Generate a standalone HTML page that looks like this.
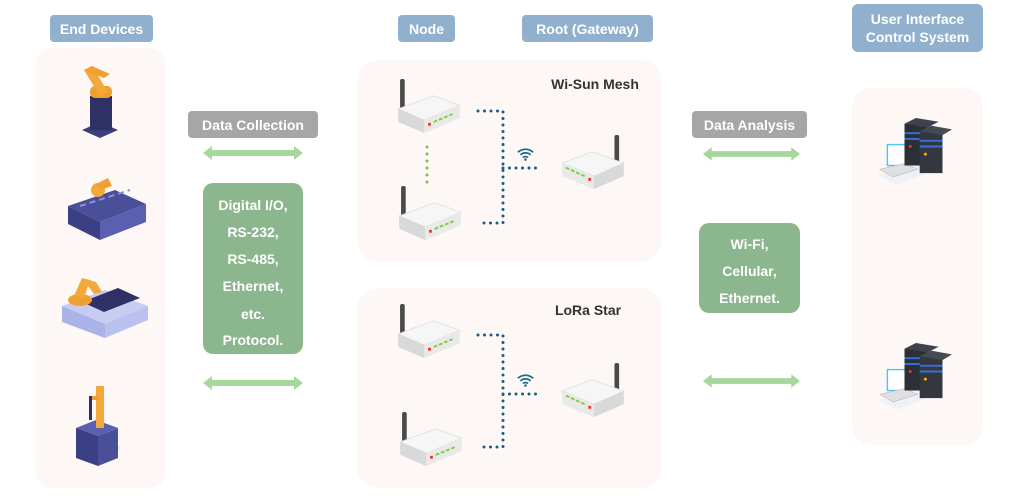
<!DOCTYPE html>
<html><head><meta charset="utf-8"><style>
html,body{margin:0;padding:0;background:#fff;}
svg{display:block;font-family:"Liberation Sans",sans-serif;font-weight:bold;}
</style></head><body>
<svg width="1024" height="501" viewBox="0 0 1024 501" xmlns="http://www.w3.org/2000/svg">
<defs>
<symbol id="rt" viewBox="0 0 70 60" overflow="visible">
  <rect x="4" y="0" width="5" height="34" rx="2" fill="#4a4a4a"/>
  <polygon points="2,32 40,18 68,28 30,44" fill="#f6f6f6" stroke="#ddd" stroke-width="0.8"/>
  <polygon points="2,32 30,44 30,58 2,46" fill="#d9d9d9"/>
  <polygon points="30,44 68,28 68,42 30,58" fill="#e9e9e9"/>
  <rect x="34" y="47" width="3" height="3" fill="#e33"/>
  <line x1="40" y1="46" x2="62" y2="37" stroke="#7ecb3f" stroke-width="2" stroke-dasharray="4 2"/>
</symbol>
<symbol id="gw" viewBox="0 0 70 60" overflow="visible">
  <rect x="58" y="0" width="5" height="36" rx="2" fill="#4a4a4a"/>
  <polygon points="2,30 34,18 68,30 36,44" fill="#f6f6f6" stroke="#ddd" stroke-width="0.8"/>
  <polygon points="2,30 36,44 36,58 2,44" fill="#e9e9e9"/>
  <polygon points="36,44 68,30 68,44 36,58" fill="#d9d9d9"/>
  <line x1="6" y1="35" x2="28" y2="45" stroke="#7ecb3f" stroke-width="2" stroke-dasharray="4 2"/>
  <rect x="30" y="46" width="3" height="3" fill="#e33"/>
</symbol>
<symbol id="sv" viewBox="0 0 80 80" overflow="visible">
  <polygon points="2,60 40,48 60,56 22,70" fill="#eef2f7"/>
  <rect x="12" y="28" width="20" height="22" fill="#fff" stroke="#4fc3f7" stroke-width="1.5"/>
  <polygon points="4,54 30,48 44,54 18,62" fill="#e0e0e0" stroke="#bbb" stroke-width="0.6"/>
  <rect x="30" y="6" width="24" height="44" fill="#2b2f36"/>
  <polygon points="30,6 42,0 66,4 54,10" fill="#3d424b"/>
  <line x1="30" y1="16" x2="54" y2="16" stroke="#3b6fe0" stroke-width="2"/>
  <line x1="30" y1="22" x2="54" y2="22" stroke="#3b6fe0" stroke-width="2"/>
  <rect x="46" y="14" width="24" height="44" fill="#33373f"/>
  <polygon points="46,14 58,8 80,12 70,18" fill="#454a53"/>
  <line x1="46" y1="24" x2="70" y2="24" stroke="#3b6fe0" stroke-width="2"/>
  <line x1="46" y1="30" x2="70" y2="30" stroke="#3b6fe0" stroke-width="2"/>
  <circle cx="36" cy="30" r="1.6" fill="#e33"/>
  <circle cx="52" cy="38" r="1.6" fill="#f5b800"/>
</symbol>
<symbol id="wf" viewBox="0 0 20 16" overflow="visible">
  <path d="M1,6 A13,13 0 0 1 19,6" fill="none" stroke="#1d6a8f" stroke-width="2"/>
  <path d="M4,9 A9,9 0 0 1 16,9" fill="none" stroke="#1d6a8f" stroke-width="2"/>
  <path d="M7,12 A5,5 0 0 1 13,12" fill="none" stroke="#1d6a8f" stroke-width="2"/>
  <circle cx="10" cy="14.5" r="1.5" fill="#1d6a8f"/>
</symbol>
<symbol id="ar" viewBox="0 0 100 14" overflow="visible">
  <polygon points="0,7 9,0 9,4 91,4 91,0 100,7 91,14 91,10 9,10 9,14" fill="#a5d89a"/>
</symbol>
</defs>

<rect x="35" y="48" width="131" height="440" rx="18" fill="#fdf8f6"/>
<rect x="357" y="60" width="305" height="202" rx="22" fill="#fdf8f6"/>
<rect x="357" y="288" width="305" height="200" rx="22" fill="#fdf8f6"/>
<rect x="852" y="88" width="131" height="357" rx="18" fill="#fdf8f6"/>

<g font-size="14" fill="#fff" text-anchor="middle">
<rect x="50" y="15" width="103" height="27" rx="4" fill="#90b0cd"/>
<text x="101.5" y="34">End Devices</text>
<rect x="398" y="15" width="57" height="27" rx="4" fill="#90b0cd"/>
<text x="426.5" y="34">Node</text>
<rect x="522" y="15" width="131" height="27" rx="4" fill="#90b0cd"/>
<text x="587.5" y="34">Root (Gateway)</text>
<rect x="852" y="4" width="131" height="48" rx="6" fill="#90b0cd"/>
<text x="917.5" y="24">User Interface</text>
<text x="917.5" y="42">Control System</text>

<rect x="188" y="111" width="130" height="27" rx="4" fill="#a6a6a6"/>
<text x="253" y="130">Data Collection</text>
<rect x="203" y="183" width="100" height="171" rx="10" fill="#8cb78e"/>
<text x="253" y="210">Digital I/O,</text>
<text x="253" y="237">RS-232,</text>
<text x="253" y="264">RS-485,</text>
<text x="253" y="291">Ethernet,</text>
<text x="253" y="319">etc.</text>
<text x="253" y="345">Protocol.</text>

<rect x="692" y="111" width="115" height="27" rx="4" fill="#a6a6a6"/>
<text x="749.5" y="130">Data Analysis</text>
<rect x="699" y="223" width="101" height="90" rx="10" fill="#8cb78e"/>
<text x="749.5" y="249">Wi-Fi,</text>
<text x="749.5" y="276">Cellular,</text>
<text x="749.5" y="303">Ethernet.</text>
</g>
<use href="#ar" x="203" y="146" width="100" height="14"/>
<use href="#ar" x="203" y="376" width="100" height="14"/>
<use href="#ar" x="703" y="147" width="97" height="14"/>
<use href="#ar" x="703" y="374" width="97" height="14"/>

<text x="595" y="89" font-size="14" fill="#333" text-anchor="middle">Wi-Sun Mesh</text>
<use href="#rt" x="396" y="79" width="66" height="56"/>
<use href="#rt" x="397" y="186" width="66" height="56"/>
<use href="#gw" x="560" y="135" width="66" height="56"/>
<g stroke="#1d5b7f" stroke-width="3" stroke-linecap="round" stroke-dasharray="0 6.5" fill="none">
<path d="M478,111 H503 V223 H478"/>
<path d="M503,168 H540"/>
</g>
<path d="M427,147 V184" stroke="#7ec24a" stroke-width="3" stroke-linecap="round" stroke-dasharray="0 7" fill="none"/>
<use href="#wf" x="517" y="147" width="17" height="14"/>

<text x="588" y="315" font-size="14" fill="#333" text-anchor="middle">LoRa Star</text>
<use href="#rt" x="396" y="304" width="66" height="56"/>
<use href="#rt" x="398" y="412" width="66" height="56"/>
<use href="#gw" x="560" y="363" width="66" height="56"/>
<g stroke="#1d5b7f" stroke-width="3" stroke-linecap="round" stroke-dasharray="0 6.5" fill="none">
<path d="M478,335 H503 V447 H478"/>
<path d="M503,394 H540"/>
</g>
<use href="#wf" x="517" y="373" width="17" height="14"/>

<use href="#sv" x="876" y="118" width="76" height="76"/>
<use href="#sv" x="876" y="343" width="76" height="76"/>

<g>
  <polygon points="82,130 100,122 118,130 100,138" fill="#3d3f7a"/>
  <rect x="90" y="96" width="22" height="34" fill="#2f3166"/>
  <rect x="90" y="86" width="22" height="12" rx="5" fill="#f0a030"/>
  <polygon points="84,70 92,66 108,92 100,96" fill="#f5a83a"/>
  <polygon points="84,70 92,66 110,74 104,78" fill="#f0a030"/>
</g>
<g>
  <polygon points="68,206 115,190 146,204 100,222" fill="#4a4f9a"/>
  <polygon points="68,206 100,222 100,240 68,224" fill="#3b3f84"/>
  <polygon points="100,222 146,204 146,222 100,240" fill="#5a5fb0"/>
  <line x1="80" y1="206" x2="130" y2="190" stroke="#8e93d8" stroke-width="2" stroke-dasharray="6 4"/>
  <circle cx="98" cy="190" r="7" fill="#f5a83a"/>
  <polygon points="96,184 108,178 112,186 100,190" fill="#f0a030"/>
</g>
<g>
  <polygon points="62,306 105,290 148,306 105,324" fill="#c7cdf2"/>
  <polygon points="62,306 105,324 105,338 62,322" fill="#aab2e8"/>
  <polygon points="105,324 148,306 148,320 105,338" fill="#bac1ee"/>
  <polygon points="82,302 118,288 140,298 104,312" fill="#2f3166"/>
  <ellipse cx="80" cy="300" rx="12" ry="6" fill="#f0a030"/>
  <polygon points="74,296 82,278 90,280 84,298" fill="#f5a83a"/>
  <polygon points="82,278 96,282 102,292 94,294" fill="#f5a83a"/>
</g>
<g>
  <polygon points="76,448 100,440 122,448 98,456" fill="#e0e4f7"/>
  <polygon points="76,428 96,420 118,428 98,436" fill="#5a5fb0"/>
  <polygon points="76,428 98,436 98,466 76,458" fill="#3b3f84"/>
  <polygon points="98,436 118,428 118,458 98,466" fill="#4a4f9a"/>
  <rect x="96" y="386" width="8" height="42" fill="#f5a83a"/>
  <rect x="90" y="396" width="8" height="4" fill="#f0a030"/>
  <rect x="89" y="396" width="3" height="24" fill="#2f3166"/>
</g>
</svg>
</body></html>
